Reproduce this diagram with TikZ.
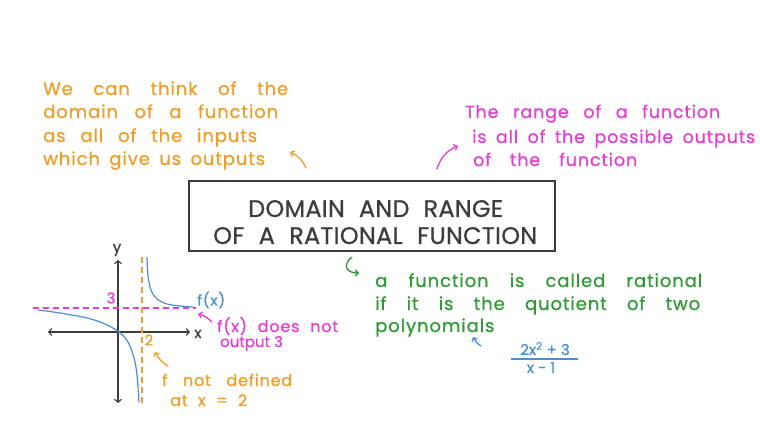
\documentclass[tikz,border=0pt]{standalone}
\usepackage{fontspec}
\setmainfont{Poppins}
\newfontfamily\hand[LetterSpace=5,FakeBold=0.6]{Poppins}
\newfontfamily\handt[LetterSpace=1,FakeBold=0.6]{Poppins}
\newfontfamily\handn[LetterSpace=0,FakeBold=0.6]{Poppins}
\usetikzlibrary{arrows.meta}
\definecolor{orng}{HTML}{EE9E26}
\definecolor{magn}{HTML}{E63CD6}
\definecolor{grn}{HTML}{2D9A33}
\definecolor{blu}{HTML}{4A8FD4}
\definecolor{ink}{HTML}{3C3C3C}
\newcommand{\spread}[2]{\makebox[#1pt][s]{#2}}
\begin{document}
\begin{tikzpicture}[x=1pt,y=-1pt,
  txto/.style={anchor=base west, inner sep=0pt, font=\hand\fontsize{18}{19}\selectfont, text=orng},
  txtg/.style={anchor=base west, inner sep=0pt, font=\hand\fontsize{18}{19}\selectfont, text=grn},
  txtm/.style={anchor=base west, inner sep=0pt, font=\hand\fontsize{17.5}{18}\selectfont, text=magn},
  ttl/.style={anchor=base west, inner sep=0pt, font=\handt\fontsize{24}{25}\selectfont, text=ink},
  small/.style={inner sep=0pt, font=\hand\fontsize{15}{16}\selectfont},
  frac/.style={inner sep=0pt, font=\handn\fontsize{15}{16}\selectfont, text=blu, anchor=base},
  note/.style={anchor=base west, inner sep=0pt, font=\hand\fontsize{16}{17}\selectfont},
  notesm/.style={anchor=base west, inner sep=0pt, font=\handn\fontsize{15}{16}\selectfont},
  pointer/.style={line width=1.3pt, line cap=round, -{Straight Barb[length=3pt,width=6pt]}},
  axis/.style={line width=1.1pt, ink, {Straight Barb[length=3pt,width=7pt]}-{Straight Barb[length=3pt,width=7pt]}},
  curve/.style={line width=1.2pt, blu},
  asym/.style={line width=1.1pt, dash pattern=on 6pt off 4pt}]
\useasboundingbox (0,0) rectangle (760,427);
\fill[white] (0,0) rectangle (760,427);

% orange domain note
\node[txto] (d1) at (43,95) {\spread{245}{We can think of the}};
\node[txto] (d2) at (43,118) {\spread{235}{domain of a function}};
\node[txto] (d3) at (43,142) {\spread{214}{as all of the inputs}};
\node[txto] (d4) at (43,165) {\spread{222}{which give us outputs}};
\coordinate (da1) at (306,168);
\coordinate (da2) at (290,152);
\draw[pointer, orng] (da1) to[bend right=20] (da2);

% magenta range note
\node[txtm] (r1) at (465,118) {\spread{255}{The range of a function}};
\node[txtm] (r2) at (472,143) {\spread{283}{is all of the possible outputs}};
\node[txtm] (r3) at (473,166) {\spread{164}{of the function}};
\coordinate (ra1) at (437,169);
\coordinate (ra2) at (458,146);
\draw[pointer, magn] (ra1) to[bend left=25] (ra2);

% title box
\node[draw=ink, line width=2.2pt, minimum width=366pt, minimum height=70pt, anchor=north west] (box) at (188,180) {};
\node[ttl] (t1) at (248,217) {\spread{255}{DOMAIN AND RANGE}};
\node[ttl] (t2) at (213,244) {\spread{324}{OF A RATIONAL FUNCTION}};

% green note
\coordinate (ga1) at (352,257);
\coordinate (ga2) at (359,273);
\draw[pointer, grn] (ga1) .. controls (343,264) and (345,273) .. (ga2);
\node[txtg] (g1) at (375,287) {\spread{327}{a function is called rational}};
\node[txtg] (g2) at (375,310) {\spread{325}{if it is the quotient of two}};
\node[txtg] (g3) at (375,332) {polynomials};

% blue fraction
\coordinate (ba1) at (481,346);
\coordinate (ba2) at (473,337);
\draw[pointer, blu] (ba1) to[bend left=15] (ba2);
\node[frac] (num) at (545,355) {2x\textsuperscript{2} + 3};
\node[frac] (den) at (541,373) {x - 1};
\draw[blu, line width=1.1pt] (511,359) -- (578,359);

% graph
\coordinate (xl) at (48,332);
\coordinate (xr) at (190,332);
\coordinate (yt) at (118,260);
\coordinate (yb) at (118,403);
\draw[axis] (xl) -- (xr);
\draw[axis] (yb) -- (yt);
\node[small, text=ink] (ylab) at (117,250) {y};
\node[small, text=ink] (xlab) at (198,334) {x};
\draw[asym, orng] (142,257) -- (142,403);
\draw[asym, magn] (33,308) -- (196,308);
\node[small, text=magn] (three) at (111,298) {3};
\node[small, text=orng] (two) at (149,340) {2};
\draw[curve] plot[smooth, tension=0.6] coordinates {(147,257) (148,275) (151,290) (157,299) (167,304) (180,306) (193,307)};
\draw[curve] plot[smooth, tension=0.6] coordinates {(38,310) (60,313) (87,318) (105,324) (119,332) (128,342) (134,358) (137,375) (139,402)};
\node[small, text=blu, anchor=west] (fx) at (197,300) {f(x)};

\coordinate (ma1) at (212,322);
\coordinate (ma2) at (198,314);
\draw[pointer, magn] (ma1) to[bend right=15] (ma2);
\node[note, text=magn] (m1) at (217,332) {\spread{121}{f(x) does not}};
\node[notesm, text=magn] (m2) at (220,347) {output 3};

\coordinate (oa1) at (168,366);
\coordinate (oa2) at (155,352);
\draw[pointer, orng] (oa1) to[bend left=15] (oa2);
\node[note, text=orng] (o1) at (162,386) {\spread{130}{f not defined}};
\node[note, text=orng] (o2) at (170,406) {\spread{77}{at x = 2}};
\end{tikzpicture}
\end{document}
